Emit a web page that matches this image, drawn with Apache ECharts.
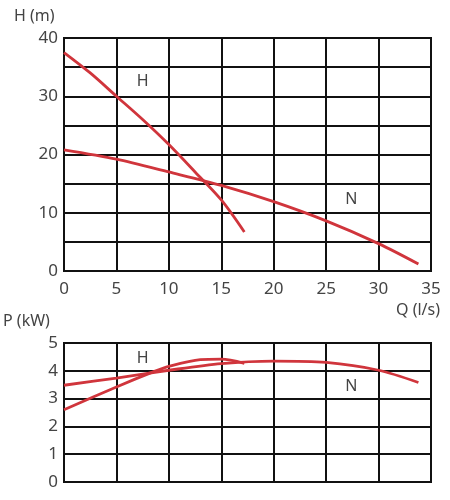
<!DOCTYPE html>
<html>
<head>
<meta charset="utf-8">
<script src="https://cdn.jsdelivr.net/npm/echarts@6/dist/echarts.min.js"></script>
<style>
  html, body { margin: 0; padding: 0; background: #fff; }
  #chart { width: 450px; height: 500px; }
</style>
</head>
<body>
<div id="chart"></div>
<script>
// flow Q (l/s) and head H (m)
var headH = [[0, 37.5], [2.5, 34], [5, 30], [7.5, 26], [10, 21.7], [12.5, 17], [15, 12.2], [17.2, 6.7]];
var headN = [[0, 20.8], [5, 19.2], [10, 17.0], [15, 14.7], [20, 11.9], [25, 8.6], [30, 4.7], [33.8, 1.2]];
// power P (kW)
var powerH = [[0, 2.6], [5, 3.42], [8.5, 3.96], [10, 4.16], [13, 4.4], [15, 4.42], [17.2, 4.27]];
var powerN = [[0, 3.48], [5, 3.74], [10, 4.02], [15, 4.26], [20, 4.35], [25, 4.3], [30, 4.02], [33.8, 3.58]];

var red = '#d0353c';
var ink = '#111';
var txt = '#444';
var font = 'Noto Sans';

var charts = echarts.init(document.getElementById('chart'));

function lineSeries(name, data, xi, tag, tagPos) {
    return {
        name: name,
        type: 'line',
        xAxisIndex: xi,
        yAxisIndex: xi,
        data: data,
        smooth: 0.3,
        showSymbol: false,
        lineStyle: { color: red, width: 2.8 },
        markPoint: {
            symbolSize: 0,
            data: [{ coord: tagPos }],
            label: { show: true, formatter: tag, color: txt, fontSize: 16, fontFamily: font, position: 'inside' }
        },
        animation: false
    };
}

var option = {
    grid: [
        { left: 64, top: 38, width: 367, height: 233, show: true, borderColor: ink, borderWidth: 2 },
        { left: 64, top: 343, width: 367, height: 139, show: true, borderColor: ink, borderWidth: 2 }
    ],
    xAxis: [
        {
            gridIndex: 0, type: 'value', min: 0, max: 35, interval: 5,
            axisLine: { show: true, lineStyle: { color: ink, width: 2 } },
            axisTick: { show: false },
            splitLine: { show: true, lineStyle: { color: ink, width: 2 } },
            axisLabel: { color: txt, fontSize: 17, fontFamily: font, margin: 10 }
        },
        {
            gridIndex: 1, type: 'value', min: 0, max: 35, interval: 5,
            axisLine: { show: true, lineStyle: { color: ink, width: 2 } },
            axisTick: { show: false },
            splitLine: { show: true, lineStyle: { color: ink, width: 2 } },
            axisLabel: { show: false }
        }
    ],
    yAxis: [
        {
            gridIndex: 0, type: 'value', min: 0, max: 40, interval: 5,
            axisLine: { show: true, lineStyle: { color: ink, width: 2 } },
            axisTick: { show: false },
            splitLine: { show: true, lineStyle: { color: ink, width: 2 } },
            axisLabel: {
                color: txt, fontSize: 17, fontFamily: font, margin: 6,
                formatter: function (v) { return v % 10 === 0 ? String(v) : ''; }
            }
        },
        {
            gridIndex: 1, type: 'value', min: 0, max: 5, interval: 1,
            axisLine: { show: true, lineStyle: { color: ink, width: 2 } },
            axisTick: { show: false },
            splitLine: { show: true, lineStyle: { color: ink, width: 2 } },
            axisLabel: { color: txt, fontSize: 17, fontFamily: font, margin: 6 }
        }
    ],
    graphic: [
        { type: 'text', left: 14, top: 8, style: { text: 'H (m)', fill: txt, fontSize: 16, fontFamily: font } },
        { type: 'text', left: 3, top: 313, style: { text: 'P (kW)', fill: txt, fontSize: 16, fontFamily: font } },
        { type: 'text', right: 10, top: 302, style: { text: 'Q (l/s)', fill: txt, fontSize: 16, fontFamily: font } }
    ],
    series: [
        lineSeries('H', headH, 0, 'H', [7.5, 32.5]),
        lineSeries('N', headN, 0, 'N', [27.4, 12.3]),
        lineSeries('H', powerH, 1, 'H', [7.5, 4.45]),
        lineSeries('N', powerN, 1, 'N', [27.4, 3.45])
    ]
};
charts.setOption(option);
</script>
</body>
</html>
